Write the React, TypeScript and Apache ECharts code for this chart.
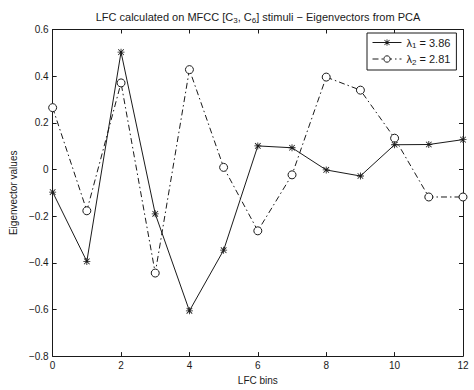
import React, { useEffect, useRef } from "react";
import * as echarts from "echarts";

const bins = [0, 1, 2, 3, 4, 5, 6, 7, 8, 9, 10, 11, 12];
const eig1 = [-0.097, -0.394, 0.503, -0.19, -0.606, -0.346, 0.101, 0.093, -0.002, -0.028, 0.106, 0.107, 0.128];
const eig2 = [0.265, -0.177, 0.371, -0.444, 0.428, 0.009, -0.263, -0.023, 0.396, 0.34, 0.134, -0.118, -0.118];
const legendNames = ["l1", "l2"];
const legendLabels = ["{g|λ}{s|1}{g| = 3.86}", "{g|λ}{s|2}{g| = 2.81}"];

const FONT = "Liberation Sans, Arial, Helvetica, sans-serif";
const INK = "#1a1a1a";

const asterisk =
  "path://M4.4 0 h1.2 v10 h-1.2 Z M0 4.4 h10 v1.2 h-10 Z M0.6 1.4 L1.4 0.6 L9.4 8.6 L8.6 9.4 Z M8.6 0.6 L9.4 1.4 L1.4 9.4 L0.6 8.6 Z";

const fmtY = (v: number) => {
  const r = Math.round(v * 10) / 10;
  if (r === 0) return "0";
  return (r < 0 ? "\u2212" : "") + Math.abs(r).toFixed(1);
};

export default function App() {
  const ref = useRef<HTMLDivElement>(null);
  useEffect(() => {
    if (!ref.current) return;
    const chart = echarts.init(ref.current, undefined, { renderer: "svg" });
    const axisCommon = {
      axisLine: { show: true, onZero: false, lineStyle: { color: INK, width: 1 } },
      axisTick: { show: true, inside: true, length: 4, lineStyle: { color: INK } },
      splitLine: { show: false },
    };
    chart.setOption({
      animation: false,
      backgroundColor: "#fff",
      textStyle: { fontFamily: FONT },
      title: {
        text: "{a|LFC calculated on MFCC [C}{s|3}{a|, C}{s|6}{a|] stimuli \u2212 Eigenvectors from PCA}",
        left: 253,
        textAlign: "center",
        top: 4,
        textStyle: {
          fontWeight: "normal",
          rich: {
            a: { fontSize: 11, fontFamily: FONT, color: INK, fontWeight: "normal" },
            s: { fontSize: 8, fontFamily: FONT, color: INK, fontWeight: "normal", padding: [7, 0, 0, 0] },
          },
        },
      },
      grid: { left: 44, right: 11, top: 29.5, bottom: 31, containLabel: false },
      legend: {
        data: legendNames,
        left: 367,
        top: 33,
        orient: "vertical",
        backgroundColor: "#fff",
        borderColor: INK,
        borderWidth: 1,
        padding: [4, 6, 4, 5],
        itemWidth: 29,
        itemHeight: 8,
        itemGap: 4,
        lineStyle: { width: 1 },
        itemStyle: { borderWidth: 1 },
        formatter: (name: string) => legendLabels[legendNames.indexOf(name)],
        textStyle: {
          rich: {
            g: { fontSize: 11, fontFamily: FONT, color: INK },
            s: { fontSize: 8, fontFamily: FONT, color: INK, padding: [6, 0, 0, 0] },
          },
        },
      },
      xAxis: [
        {
          type: "value",
          min: 0,
          max: 12,
          interval: 2,
          position: "bottom",
          ...axisCommon,
          axisLabel: { color: INK, fontSize: 10, fontFamily: FONT, margin: 4 },
          name: "LFC bins",
          nameLocation: "middle",
          nameGap: 17,
          nameTextStyle: { color: INK, fontSize: 10, fontFamily: FONT },
        },
        {
          type: "value",
          min: 0,
          max: 12,
          interval: 2,
          position: "top",
          ...axisCommon,
          axisLabel: { show: false },
        },
      ],
      yAxis: [
        {
          type: "value",
          min: -0.8,
          max: 0.6,
          interval: 0.2,
          position: "left",
          ...axisCommon,
          axisLabel: { color: INK, fontSize: 10, fontFamily: FONT, margin: 4, formatter: fmtY },
          name: "Eigenvector values",
          nameLocation: "middle",
          nameGap: 34,
          nameTextStyle: { color: INK, fontSize: 10, fontFamily: FONT },
        },
        {
          type: "value",
          min: -0.8,
          max: 0.6,
          interval: 0.2,
          position: "right",
          ...axisCommon,
          axisLabel: { show: false },
        },
      ],
      series: [
        {
          name: legendNames[0],
          type: "line",
          xAxisIndex: 0,
          yAxisIndex: 0,
          data: bins.map((b, i) => [b, eig1[i]]),
          symbol: asterisk,
          symbolSize: 7,
          showAllSymbol: true,
          lineStyle: { color: INK, width: 1 },
          itemStyle: { color: INK, borderWidth: 0 },
          z: 3,
        },
        {
          name: legendNames[1],
          type: "line",
          xAxisIndex: 0,
          yAxisIndex: 0,
          data: bins.map((b, i) => [b, eig2[i]]),
          symbol: "circle",
          symbolSize: 8,
          showAllSymbol: true,
          lineStyle: { color: INK, width: 1, type: [6, 3, 1.5, 3] },
          itemStyle: { color: "#fff", borderColor: INK, borderWidth: 1 },
          z: 2,
        },
      ],
    });
    return () => chart.dispose();
  }, []);
  return <div ref={ref} style={{ width: 474, height: 390, position: "absolute", left: 0, top: 0 }} />;
}
